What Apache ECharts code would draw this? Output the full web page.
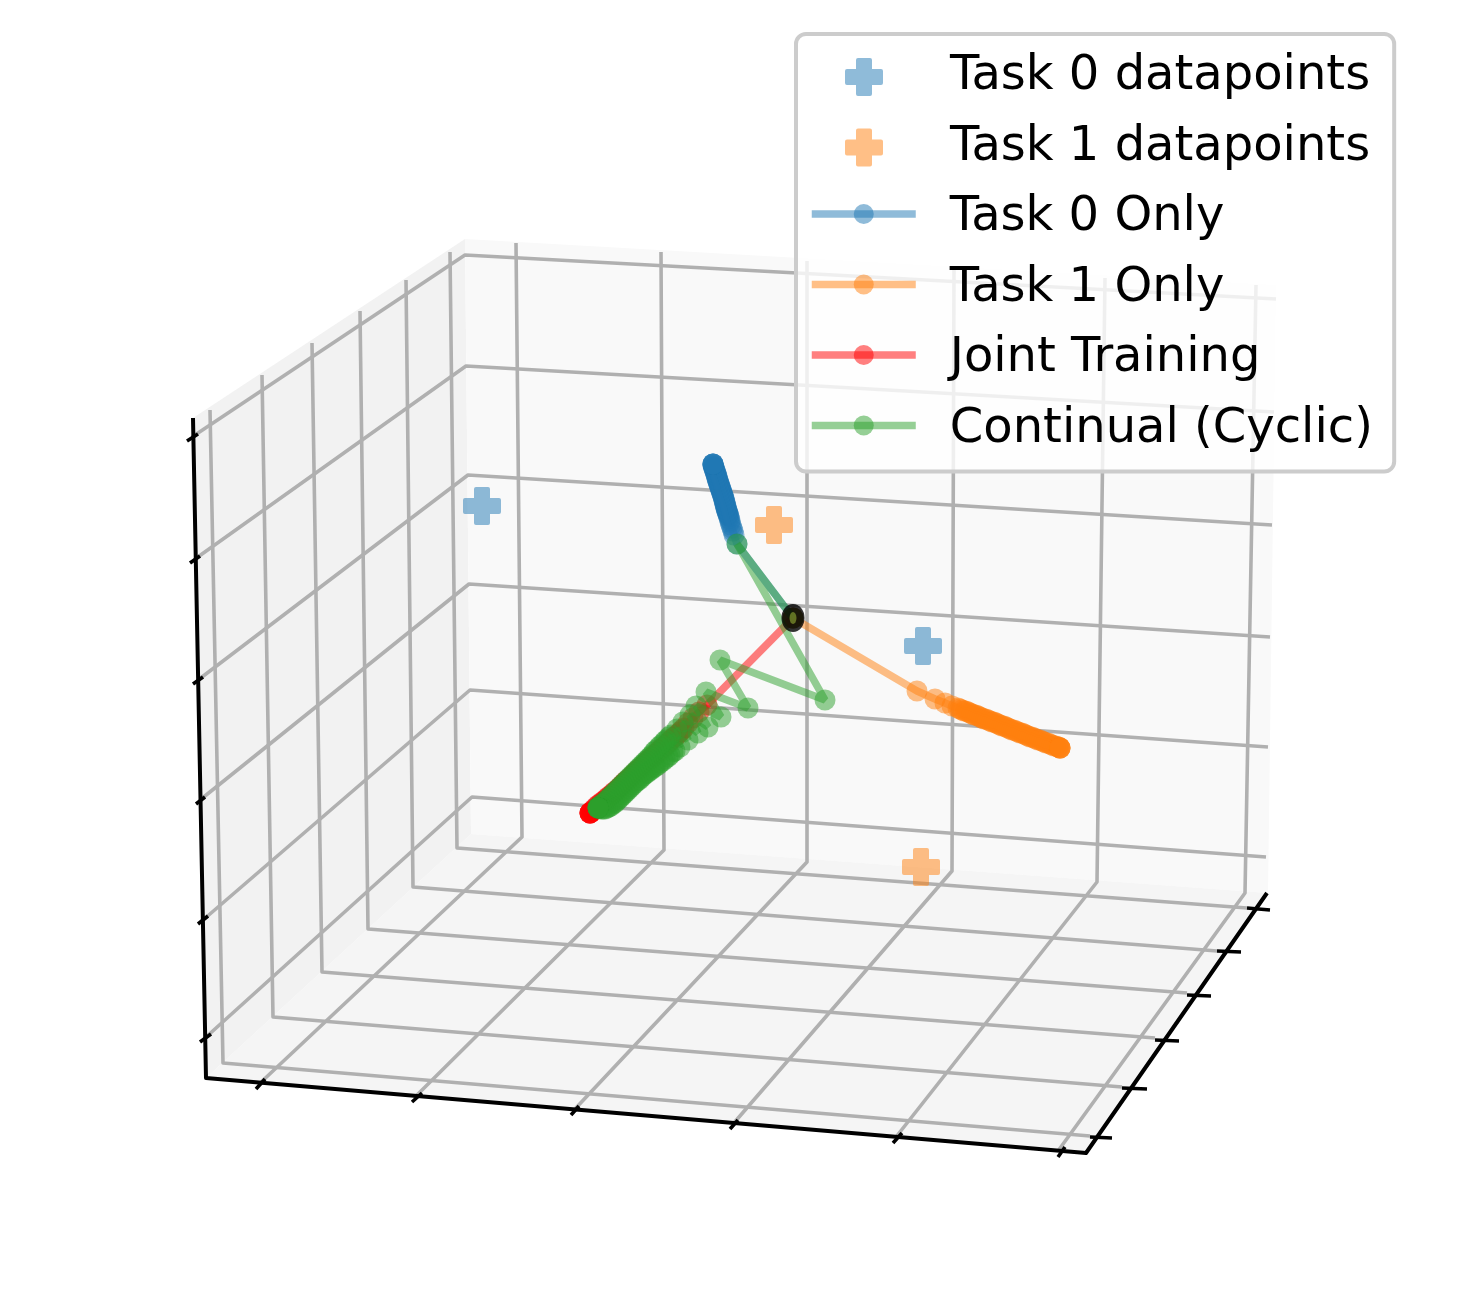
<!DOCTYPE html>
<html>
<head>
<meta charset="utf-8">
<script src="https://cdn.jsdelivr.net/npm/echarts@6/dist/echarts.min.js"></script>
<style>
  html, body { margin: 0; padding: 0; background: #fff; }
</style>
</head>
<body>
<div id="chart" style="width: 1484px; height: 1304px;"></div>
<script>
const leftPane = [[193, 418], [465, 239], [471, 834], [206, 1078]];
const backPane = [[465, 239], [1276, 285], [1268, 893], [471, 834]];
const floorPane = [[206, 1078], [471, 834], [1268, 893], [1086, 1153]];

const xGridLines = [
  [[258, 1085], [522, 837], [516, 243]],
  [[414, 1098], [664, 850], [661, 252]],
  [[574, 1110], [807, 862], [807, 261]],
  [[733, 1124], [952, 871], [954, 270]],
  [[896, 1137], [1097, 882], [1105, 278]],
  [[1058, 1151], [1245, 893], [1256, 285]]
];
const yGridLines = [
  [[210, 410], [223, 1063], [1090, 1136]],
  [[262, 375], [273, 1017], [1122, 1087]],
  [[312, 343], [322, 972], [1155, 1038]],
  [[360, 311], [368, 929], [1187, 993]],
  [[406, 280], [413, 887], [1217, 951]],
  [[450, 252], [457, 848], [1247, 908]]
];
const zGridLines = [
  [[205, 1038], [472, 797], [1266, 857]],
  [[203, 920], [470, 690], [1268, 747]],
  [[200, 800], [469, 584], [1270, 637]],
  [[198, 680], [468, 475], [1272, 525]],
  [[195, 559], [466, 366], [1274, 412]],
  [[192, 437], [465, 255], [1276, 299]]
];

const axisLines = [
  [[193, 418], [206, 1078], [1086, 1153], [1267, 893]]
];
const tickMarks = [
  [[256, 1089], [265, 1079]], [[412, 1102], [422, 1093]], [[571, 1115], [579, 1106]],
  [[730, 1129], [738, 1120]], [[893, 1143], [902, 1133]], [[1058, 1157], [1065, 1147]],
  [[1090, 1137], [1112, 1138]], [[1122, 1088], [1147, 1089]], [[1155, 1040], [1179, 1041]],
  [[1187, 995], [1211, 996]], [[1217, 951], [1241, 952]], [[1247, 908], [1270, 910]],
  [[200, 1042], [211, 1034]], [[198, 924], [208, 916]], [[196, 804], [205, 797]],
  [[193, 684], [203, 677]], [[190, 563], [200, 556]], [[187, 441], [198, 434]]
];

const task0Points = [[482, 506], [923, 646]];
const task1Points = [[774, 525], [921, 867]];

const task0Only = [
  [793, 618], [737, 544], [734, 535], [733, 531], [732, 528], [731, 525], [730, 522], [730, 520],
  [729, 518], [729, 516], [728, 515], [728, 514], [728, 513], [727, 512], [727, 511], [727, 510],
  [726, 509], [726, 508], [726, 507], [726, 506], [725, 505], [725, 504], [725, 503], [725, 502],
  [724, 501], [724, 500], [724, 499], [724, 498], [723, 497], [723, 496], [723, 495], [722, 494],
  [722, 493], [722, 492], [721, 491], [721, 490], [721, 489], [720, 488], [720, 487], [720, 486],
  [719, 485], [719, 484], [719, 483], [718, 482], [718, 481], [718, 480], [717, 479], [717, 478],
  [717, 477], [717, 476], [716, 475], [716, 474], [716, 473], [715, 472], [715, 471], [715, 470],
  [714, 469], [714, 468], [714, 467], [713, 466], [713, 465], [713, 464], [713, 464], [713, 464], [713, 464]
];
const task1Only = [
  [793, 618], [917, 691], [935, 699], [945, 703], [952, 706], [958, 708], [960, 709], [962, 710],
  [964, 711], [966, 711], [968, 712], [970, 713], [972, 714], [974, 715], [976, 715], [978, 716],
  [980, 717], [982, 718], [984, 719], [986, 719], [988, 720], [990, 721], [992, 722], [994, 722],
  [996, 723], [998, 724], [1000, 725], [1002, 726], [1004, 726], [1006, 727], [1008, 728], [1010, 729],
  [1012, 730], [1014, 730], [1016, 731], [1018, 732], [1020, 733], [1022, 733], [1024, 734], [1026, 735],
  [1028, 736], [1030, 737], [1032, 737], [1034, 738], [1036, 739], [1038, 740], [1040, 740], [1042, 741],
  [1044, 742], [1046, 743], [1048, 743], [1050, 744], [1052, 745], [1054, 746], [1056, 746], [1058, 747],
  [1059, 747], [1060, 748], [1060, 748], [1060, 748], [1060, 748]
];
const jointTraining = [
  [793, 618], [707, 705], [699, 712], [693, 718], [688, 723], [684, 728], [682, 730], [680, 732],
  [678, 734], [676, 736], [674, 737], [672, 739], [670, 741], [668, 743], [666, 745], [664, 747],
  [662, 748], [660, 750], [658, 752], [656, 754], [654, 756], [652, 758], [650, 759], [648, 761],
  [646, 763], [644, 765], [642, 767], [640, 769], [638, 770], [636, 772], [634, 774], [632, 776],
  [630, 778], [628, 780], [626, 781], [624, 783], [622, 785], [620, 787], [618, 789], [616, 791],
  [614, 792], [612, 794], [610, 796], [608, 797], [606, 799], [604, 801], [602, 802], [600, 804],
  [598, 805], [596, 807], [594, 809], [592, 811], [591, 812], [590, 813], [590, 813], [590, 813], [590, 813], [590, 813]
];
const continualCyclic = [
  [793, 618], [737, 544], [825, 700], [720, 660], [748, 708], [706, 692], [721, 717], [696, 706],
  [708, 727], [690, 715], [698, 733], [683, 722], [688, 740], [677, 729], [680, 747], [671, 735],
  [675, 751], [669, 737], [673, 752], [666, 740], [670, 755], [664, 742], [668, 757], [661, 745],
  [665, 759], [659, 747], [663, 761], [656, 750], [660, 763], [654, 752], [658, 765], [652, 755],
  [655, 767], [650, 757], [653, 768], [648, 759], [651, 770], [646, 761], [649, 771], [644, 763],
  [647, 773], [642, 765], [645, 774], [640, 767], [643, 776], [638, 769], [641, 778], [636, 771],
  [639, 780], [634, 773], [637, 781], [632, 775], [635, 783], [630, 777], [633, 785], [628, 779],
  [631, 787], [626, 781], [629, 789], [624, 783], [627, 791], [622, 785], [625, 793], [620, 787],
  [623, 795], [618, 789], [621, 797], [616, 791], [619, 799], [614, 793], [617, 801], [612, 795],
  [615, 803], [610, 797], [613, 804], [608, 799], [611, 806], [606, 801], [609, 807], [604, 803],
  [607, 808], [602, 804], [605, 809], [600, 806], [603, 809], [598, 807], [601, 809], [598, 808],
  [599, 808], [598, 808], [598, 808], [598, 808]
];
const startPoint = [[793, 618]];

const plusIcon = 'path://M13,0 H25 Q27,0 27,2 V11 H36 Q38,11 38,13 V25 Q38,27 36,27 H27 V36 Q27,38 25,38 H13 Q11,38 11,36 V27 H2 Q0,27 0,25 V13 Q0,11 2,11 H11 V2 Q11,0 13,0 Z';

function breakLines(lines) {
  const out = [];
  lines.forEach(function (l) {
    l.forEach(function (p) { out.push(p); });
    out.push([null, null]);
  });
  return out;
}

function plainLines(name, lines, color, width, z) {
  return {
    name: name,
    type: 'line',
    data: breakLines(lines),
    symbol: 'none',
    silent: true,
    z: z,
    lineStyle: { color: color, width: width, cap: 'butt', join: 'round' }
  };
}

function pathSeries(name, data, color, z) {
  return {
    name: name,
    type: 'line',
    data: data,
    symbol: 'circle',
    symbolSize: 21,
    showSymbol: true,
    showAllSymbol: true,
    z: z,
    lineStyle: { color: color, width: 7.5, opacity: 0.5 },
    itemStyle: { color: color, opacity: 0.5 }
  };
}

function pointSeries(name, data, color) {
  return {
    name: name,
    type: 'scatter',
    data: data,
    symbol: plusIcon,
    symbolSize: 38,
    symbolKeepAspect: true,
    z: 6,
    itemStyle: { color: color, opacity: 0.5 }
  };
}

const panes = [leftPane, backPane, floorPane];
const paneColors = ['#f2f2f2', '#f9f9f9', '#f5f5f5'];

const legendFont = { fontFamily: 'DejaVu Sans', fontSize: 48, color: '#000', lineHeight: 48 };

const myChart = echarts.init(document.getElementById('chart'), null, { renderer: 'canvas' });
myChart.setOption({
  animation: false,
  backgroundColor: '#fff',
  tooltip: { show: false },
  grid: { left: 0, right: 0, top: 0, bottom: 0 },
  xAxis: { type: 'value', min: 0, max: 1484, show: false },
  yAxis: { type: 'value', min: 0, max: 1304, inverse: true, show: false },
  legend: [
    {
      data: ['Task 0 datapoints', 'Task 1 datapoints'],
      orient: 'vertical',
      left: 796,
      top: 34,
      padding: [17, 24, 298, 49],
      itemWidth: 104,
      itemHeight: 38,
      itemGap: 18.5,
      selectedMode: false,
      backgroundColor: 'rgba(255,255,255,0.8)',
      borderColor: '#cccccc',
      borderWidth: 4,
      borderRadius: 10,
      textStyle: Object.assign({}, legendFont, { padding: [4, 0, 0, 29] })
    },
    {
      data: ['Task 0 Only', 'Task 1 Only', 'Joint Training', 'Continual (Cyclic)'],
      orient: 'vertical',
      left: 808,
      top: 186,
      padding: 0,
      itemWidth: 104,
      itemHeight: 25,
      itemGap: 14.5,
      selectedMode: false,
      lineStyle: { width: 7.5 },
      formatter: '{t|{name}}',
      textStyle: {
        rich: {
          t: { fontFamily: 'DejaVu Sans', fontSize: 48, color: '#000', lineHeight: 48, padding: [8, 0, 0, 29] }
        }
      }
    }
  ],
  series: [
    {
      type: 'custom',
      silent: true,
      z: 1,
      data: [0, 1, 2],
      renderItem: function (params, api) {
        return {
          type: 'polygon',
          shape: { points: panes[params.dataIndex].map(function (p) { return api.coord(p); }) },
          style: { fill: paneColors[params.dataIndex] }
        };
      }
    },
    plainLines('xGrid', xGridLines, '#b0b0b0', 3.6, 2),
    plainLines('yGrid', yGridLines, '#b0b0b0', 3.6, 2),
    plainLines('zGrid', zGridLines, '#b0b0b0', 3.6, 2),
    plainLines('axes', axisLines, '#000', 4, 3),
    plainLines('ticks', tickMarks, '#000', 3.6, 3),
    pointSeries('Task 0 datapoints', task0Points, '#1f77b4'),
    pointSeries('Task 1 datapoints', task1Points, '#ff7f0e'),
    pathSeries('Task 0 Only', task0Only, '#1f77b4', 7),
    pathSeries('Task 1 Only', task1Only, '#ff7f0e', 8),
    pathSeries('Joint Training', jointTraining, '#ff0000', 9),
    pathSeries('Continual (Cyclic)', continualCyclic, '#2ca02c', 10),
    {
      name: 'start',
      type: 'scatter',
      data: startPoint,
      symbol: 'circle',
      symbolSize: [23, 28],
      silent: true,
      z: 11,
      itemStyle: { color: '#000' }
    },
    {
      name: 'startCore',
      type: 'scatter',
      data: startPoint,
      symbol: 'circle',
      symbolSize: [7, 12],
      silent: true,
      z: 12,
      itemStyle: { color: '#75882a' }
    }
  ]
});
</script>
</body>
</html>
